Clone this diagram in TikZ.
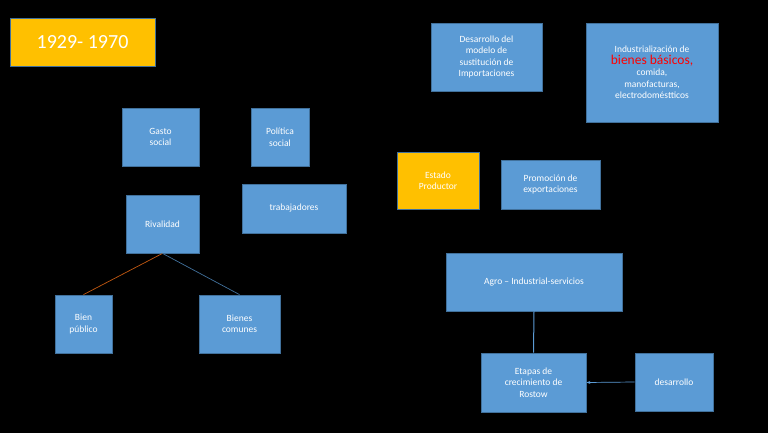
\documentclass[tikz,border=0pt]{standalone}
\usepackage{fontspec}
\setmainfont{Carlito}
\usetikzlibrary{arrows.meta}
\definecolor{bx}{HTML}{5B9BD5}
\definecolor{bd}{HTML}{41719C}
\definecolor{og}{HTML}{FFC000}
\begin{document}
\begin{tikzpicture}[x=1pt,y=-1pt,
  bb/.style={fill=bx,draw=bd,line width=0.8pt,text=white,font=\fontsize{9.5}{11.5}\selectfont,align=center},
  ob/.style={bb,fill=og,draw=bd}]
\fill[black] (0,0) rectangle (768,433);
\useasboundingbox (0,0) rectangle (768,433);
\newcommand{\bxn}[6]{\node[#1,minimum width=#4-#2,minimum height=#5-#3,inner sep=1pt] (#6) at ({(#2+#4)/2},{(#3+#5)/2})}
\bxn{ob}{10}{18}{155}{66}{t}{\fontsize{20}{24}\selectfont 1929- 1970};
\bxn{bb}{122}{108}{199}{166}{gs}{Gasto\\social};
\bxn{bb}{251}{108}{309}{166}{ps}{Política\\social};
\bxn{bb}{126}{195}{199}{253}{riv}{Rivalidad};
\bxn{bb}{242}{184}{346}{233}{tr}{trabajadores};
\bxn{bb}{55}{295}{112}{353}{bp}{Bien\\público};
\bxn{bb}{199}{295}{280}{353}{bc}{Bienes\\comunes};
\bxn{bb}{431}{23}{542}{91}{dm}{Desarrollo del\\modelo de\\sustitución de\\Importaciones};
\bxn{bb}{586}{23}{718}{122}{ind}{Industrialización de\\{\color{red}\fontsize{13.5}{16}\selectfont bienes básicos,}\\comida,\\manofacturas,\\electrodoméstticos};
\bxn{ob}{397}{152}{479}{209}{ep}{Estado\\Productor};
\bxn{bb}{501}{160}{600}{209}{pe}{Promoción de\\exportaciones};
\bxn{bb}{446}{253}{622}{311}{agro}{Agro – Industrial-servicios};
\bxn{bb}{481}{353}{586}{412}{et}{Etapas de\\crecimiento de\\Rostow};
\bxn{bb}{635}{353}{713}{411}{des}{desarrollo};
\draw[draw={rgb,255:red,197;green,90;blue,17},line width=0.7pt] (riv.south) -- (bp.north);
\draw[draw=bd,line width=0.7pt] (riv.south) -- (bc.north);
\draw[draw=bx,line width=1pt] (agro.south) -- (et.north);
\draw[draw=bx,line width=0.7pt,-{Stealth[length=4pt]}] (des.west) -- (et.east);
\end{tikzpicture}
\end{document}
